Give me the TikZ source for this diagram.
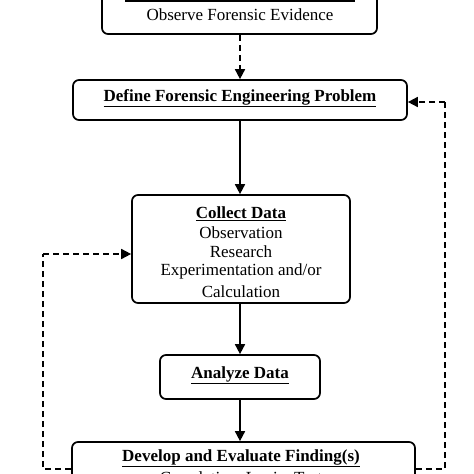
\documentclass[tikz,border=0pt]{standalone}
\usepackage{fontspec}
\setmainfont{Liberation Serif}
\usetikzlibrary{arrows.meta,positioning}
\tikzset{
  box/.style={draw=black, line width=1.7pt, rounded corners=6pt, fill=white, inner sep=0pt, align=center},
  txt/.style={inner sep=0pt, font=\fontsize{17}{20}\selectfont},
  head/.style={inner sep=0pt, font=\fontsize{17}{20}\selectfont\bfseries},
  flow/.style={line width=1.7pt, -{Triangle[length=10pt,width=10pt]}},
  back/.style={line width=1.7pt, dash pattern=on 6pt off 4pt, -{Triangle[length=10pt,width=10pt]}},
  backline/.style={line width=1.7pt, dash pattern=on 6pt off 4pt}
}
\newcommand{\ul}[1]{\underline{#1}}
\begin{document}
\begin{tikzpicture}[x=1pt,y=-1pt]
\useasboundingbox (0,0) rectangle (474,474);
\clip (0,0) rectangle (474,474);
\fill[white] (0,0) rectangle (474,474);
% top box (cut off)
\node[box, minimum width=275pt, minimum height=80pt] (observe) at (239.5,-6) {};
\fill[black] (125,-1) rectangle (355,2.4);
\node[txt] (observetxt) at (240,15) {Observe Forensic Evidence};
% define
\node[box, minimum width=334pt, minimum height=40pt] (define) at (240,100) {};
\node[head] (definetxt) at (240,98) {\ul{Define Forensic Engineering Problem}};
% collect
\node[box, minimum width=218pt, minimum height=108pt] (collect) at (241,249) {};
\node[head] (c1) at (241,214) {\ul{Collect Data}};
\node[txt] (c2) at (241,233) {Observation};
\node[txt] (c3) at (241,252) {Research};
\node[txt] (c4) at (241,271) {Experimentation and/or};
\node[txt] (c5) at (241,292) {Calculation};
% analyze
\node[box, minimum width=160pt, minimum height=44pt] (analyze) at (240,377) {};
\node[head] (atxt) at (240,375) {\ul{Analyze Data}};
% develop
\node[box, minimum width=343pt, minimum height=100pt] (develop) at (243.5,492) {};
\node[head] (d1) at (241,458) {\ul{Develop and Evaluate Finding(s)}};
\node[txt] (d2) at (241,479) {Correlation, Logic, Test};
% coordinates
\coordinate (lb) at (43,469);
\coordinate (lt) at (43,254);
\coordinate (rb) at (445,469);
\coordinate (rt) at (445,102);
% arrows
\draw[back] (observe.south -| 240,0) -- (define.north -| 240,0);
\draw[flow] (define.south -| 240,0) -- (collect.north -| 240,0);
\draw[flow] (collect.south -| 240,0) -- (analyze.north -| 240,0);
\draw[flow] (analyze.south -| 240,0) -- (develop.north -| 240,0);
\draw[backline] (develop.west |- lb) -- (lb) -- (lt);
\draw[back] (lt) -- (collect.west |- lt);
\draw[backline] (develop.east |- rb) -- (rb) -- (rt);
\draw[back] (rt) -- (define.east |- rt);
\end{tikzpicture}
\end{document}
